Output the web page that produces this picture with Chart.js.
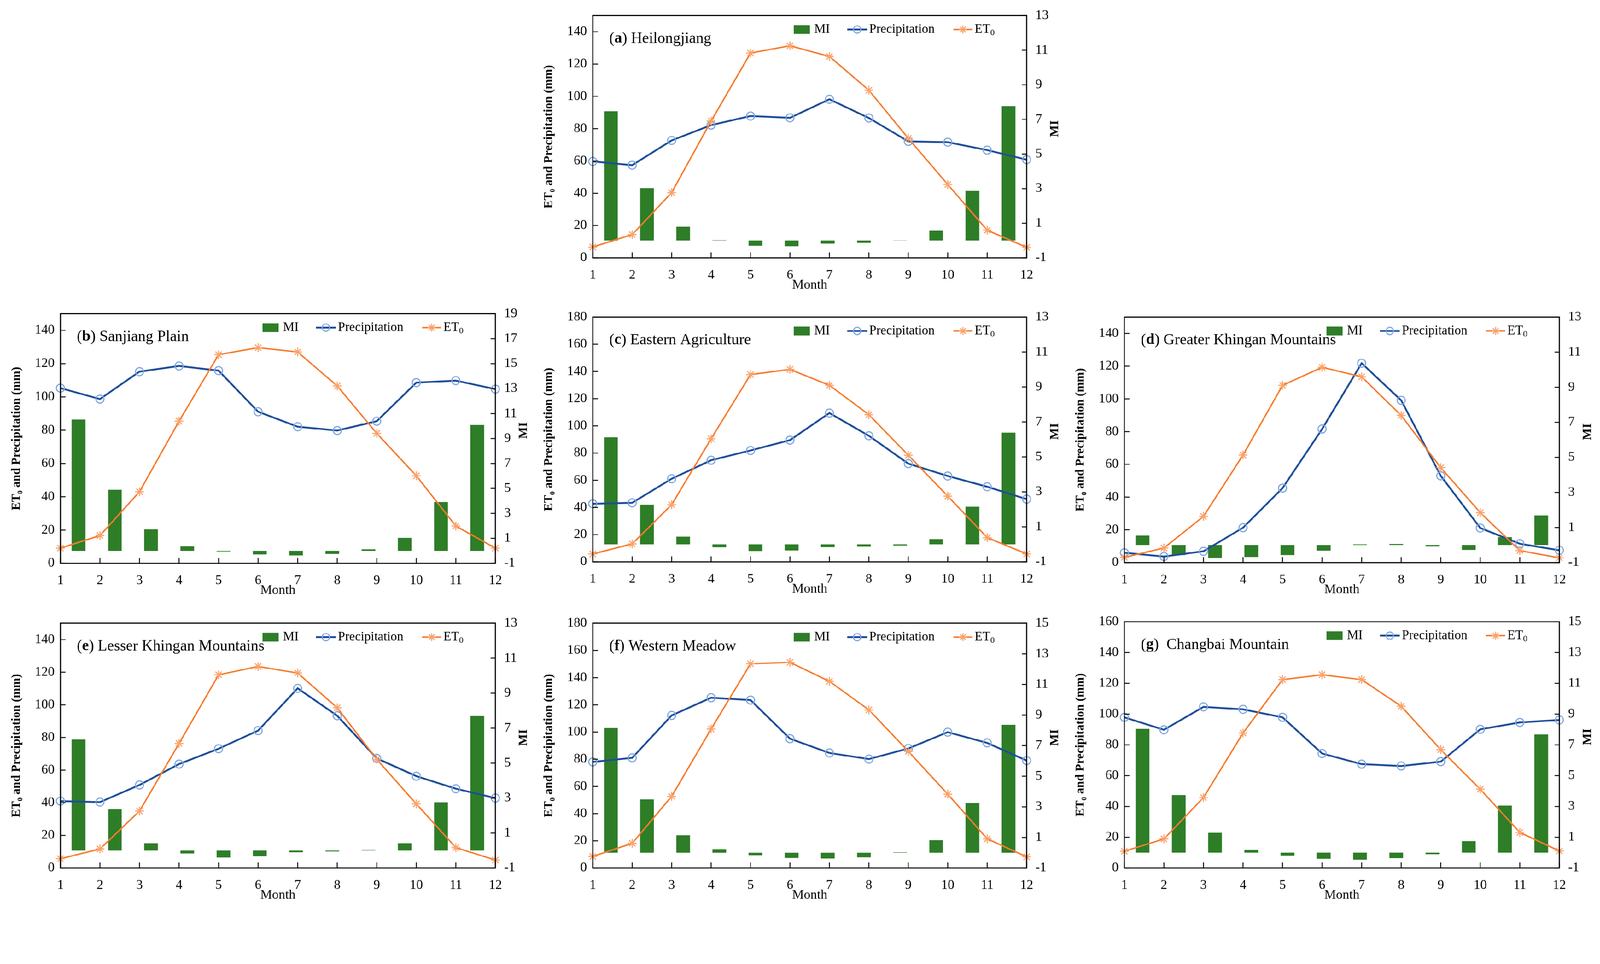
<!DOCTYPE html>
<html>
<head>
<meta charset="utf-8">
<script src="https://cdn.jsdelivr.net/npm/chart.js@4.4.1/dist/chart.umd.min.js"></script>
<style>
html, body { margin: 0; padding: 0; background: #fff; overflow: hidden; }
#page { width: 4370px; height: 2467px; position: absolute; left: 0; top: 0; transform-origin: 0 0; }
.panel { position: absolute; }
</style>
</head>
<body>
<div id="page"></div>
<script>
const months = ['1', '2', '3', '4', '5', '6', '7', '8', '9', '10', '11', '12'];

// (a) Heilongjiang
const precip_a = [59.7, 57.4, 72.7, 82.2, 87.8, 86.7, 98.2, 86.6, 72.1, 71.6, 66.7, 60.8];
const et0_a = [6.7, 14.4, 40.4, 84.7, 126.8, 131.3, 124.7, 103.8, 74.0, 45.4, 17.1, 6.5];
const mi_a = [7.47, 3.03, 0.80, 0.02, -0.30, -0.33, -0.18, -0.14, 0.01, 0.57, 2.87, 7.77];

// (b) Sanjiang Plain
const precip_b = [105.3, 98.7, 115.2, 118.6, 115.8, 91.1, 82.1, 79.8, 85.4, 108.6, 109.8, 104.7];
const et0_b = [9.1, 16.7, 43.0, 85.4, 125.4, 129.6, 127.0, 106.6, 78.1, 52.6, 22.4, 9.1];
const mi_b = [10.52, 4.89, 1.72, 0.39, -0.05, -0.29, -0.37, -0.25, 0.12, 1.04, 3.91, 10.09];

// (c) Eastern Agriculture
const precip_c = [42.7, 43.4, 61.1, 74.7, 81.9, 89.5, 109.4, 92.7, 72.2, 63.1, 55.2, 46.1];
const et0_c = [5.8, 13.2, 42.0, 90.5, 137.7, 141.5, 129.8, 108.2, 78.4, 48.3, 17.8, 5.8];
const mi_c = [6.12, 2.27, 0.44, -0.17, -0.38, -0.35, -0.16, -0.13, -0.07, 0.30, 2.15, 6.39];

// (d) Greater Khingan Mountains
const precip_d = [6.0, 3.7, 6.9, 21.3, 45.5, 81.6, 121.8, 99.1, 53.0, 21.1, 11.5, 7.5];
const et0_d = [3.2, 8.9, 28.2, 65.7, 108.3, 119.3, 113.5, 89.9, 58.0, 30.5, 7.3, 2.9];
const mi_d = [0.54, -0.57, -0.75, -0.68, -0.57, -0.32, 0.04, 0.06, -0.08, -0.28, 0.45, 1.69];

// (e) Lesser Khingan Mountains
const precip_e = [41.0, 40.4, 50.9, 63.7, 73.1, 84.2, 110.1, 93.3, 67.2, 56.3, 48.6, 42.9];
const et0_e = [5.7, 11.7, 34.9, 76.3, 118.4, 123.5, 119.5, 98.2, 66.6, 39.3, 12.5, 4.9];
const mi_e = [6.35, 2.36, 0.42, -0.17, -0.40, -0.33, -0.10, -0.05, 0.02, 0.42, 2.76, 7.69];

// (f) Western Meadow
const precip_f = [78.0, 81.0, 112.2, 125.2, 123.5, 95.1, 84.6, 80.1, 87.9, 99.9, 92.0, 79.0];
const et0_f = [8.5, 18.2, 52.7, 102.2, 150.2, 151.2, 137.3, 116.3, 85.8, 54.3, 21.5, 8.2];
const mi_f = [8.15, 3.49, 1.14, 0.23, -0.16, -0.34, -0.38, -0.30, 0.03, 0.82, 3.25, 8.36];

// (g) Changbai Mountain
const precip_g = [97.9, 89.8, 104.7, 103.1, 97.9, 74.4, 67.5, 66.3, 69.1, 90.1, 94.6, 96.2];
const et0_g = [10.9, 18.9, 45.8, 87.7, 122.4, 125.6, 122.4, 105.1, 76.9, 51.2, 23.1, 11.1];
const mi_g = [8.04, 3.74, 1.29, 0.18, -0.19, -0.40, -0.46, -0.36, -0.10, 0.75, 3.06, 7.68];

// axis ranges per panel
const leftMax = [150, 150, 180, 150, 150, 180, 160];
const miMax = [13, 19, 13, 13, 13, 15, 15];
const letters = ['a', 'b', 'c', 'd', 'e', 'f', 'g'];
const regions = ['Heilongjiang', 'Sanjiang Plain', 'Eastern Agriculture', 'Greater Khingan Mountains',
  'Lesser Khingan Mountains', 'Western Meadow', ' Changbai Mountain'];

const precipAll = [precip_a, precip_b, precip_c, precip_d, precip_e, precip_f, precip_g];
const et0All = [et0_a, et0_b, et0_c, et0_d, et0_e, et0_f, et0_g];
const miAll = [mi_a, mi_b, mi_c, mi_d, mi_e, mi_f, mi_g];

// plot area boxes on the page [left, right, top, bottom]
const boxes = [
  [1619, 2804, 21, 704],
  [165, 1353, 835, 1538],
  [1619, 2804, 844, 1534],
  [3071, 4259, 844, 1536],
  [165, 1353, 1680, 2370],
  [1619, 2804, 1680, 2370],
  [3071, 4259, 1676, 2370]
];

const SERIF = '"Liberation Serif", "Times New Roman", serif';
const GREEN = '#2e7d27';
const BLUE = '#1f4f99';
const BLUE_PT = '#7ea6e0';
const ORANGE = '#f57c2e';
const ORANGE_PT = '#f9a36c';

const AXIS_L = 165, AXIS_R = 110, AXIS_B = 100, PAD_T = 24;

const page = document.getElementById('page');
const fit = Math.min(window.innerWidth / 4370, window.innerHeight / 2467);
page.style.transform = 'scale(' + fit + ')';

Chart.defaults.font.family = SERIF;
Chart.defaults.color = '#000';

function drawStar(ctx, x, y, r) {
  ctx.beginPath();
  for (let k = 0; k < 4; k++) {
    const a = k * Math.PI / 4;
    ctx.moveTo(x + Math.cos(a) * r, y + Math.sin(a) * r);
    ctx.lineTo(x - Math.cos(a) * r, y - Math.sin(a) * r);
  }
  ctx.stroke();
}

const decor = {
  id: 'decor',
  afterDraw(chart, args, opts) {
    const ctx = chart.ctx;
    const {left, right, top, bottom} = chart.chartArea;
    ctx.save();

    // frame
    ctx.strokeStyle = '#000';
    ctx.lineWidth = 3;
    ctx.strokeRect(left, top, right - left, bottom - top);

    // inward tick marks
    ctx.lineWidth = 2.5;
    ctx.beginPath();
    const xs = chart.scales.x;
    months.forEach((m, i) => {
      const px = xs.getPixelForValue(i);
      ctx.moveTo(px, bottom);
      ctx.lineTo(px, bottom - 15);
    });
    const yl = chart.scales.y;
    yl.ticks.forEach(t => {
      const py = yl.getPixelForValue(t.value);
      ctx.moveTo(left, py);
      ctx.lineTo(left + 14, py);
    });
    const yr = chart.scales.y1;
    yr.ticks.forEach(t => {
      const py = yr.getPixelForValue(t.value);
      ctx.moveTo(right, py);
      ctx.lineTo(right - 13, py);
    });
    ctx.stroke();

    // MI axis title, reading bottom to top
    ctx.save();
    ctx.translate(right + 77, (top + bottom) / 2 - 22);
    ctx.rotate(-Math.PI / 2);
    ctx.font = 'bold 34px ' + SERIF;
    ctx.fillStyle = '#000';
    ctx.textAlign = 'center';
    ctx.textBaseline = 'middle';
    ctx.fillText('MI', 0, 0);
    ctx.restore();

    // legend
    const ly = top + 38;
    ctx.textBaseline = 'middle';
    ctx.font = '35px ' + SERIF;
    ctx.fillStyle = GREEN;
    ctx.fillRect(right - 636, ly - 12, 44, 24);
    ctx.fillStyle = '#000';
    ctx.fillText('MI', right - 580, ly);

    ctx.strokeStyle = BLUE;
    ctx.lineWidth = 5;
    ctx.beginPath();
    ctx.moveTo(right - 490, ly);
    ctx.lineTo(right - 436, ly);
    ctx.stroke();
    ctx.strokeStyle = BLUE_PT;
    ctx.lineWidth = 3;
    ctx.beginPath();
    ctx.arc(right - 463, ly, 10, 0, Math.PI * 2);
    ctx.stroke();
    ctx.fillText('Precipitation', right - 430, ly);

    ctx.strokeStyle = ORANGE;
    ctx.lineWidth = 4;
    ctx.beginPath();
    ctx.moveTo(right - 200, ly);
    ctx.lineTo(right - 148, ly);
    ctx.stroke();
    ctx.strokeStyle = ORANGE_PT;
    ctx.lineWidth = 3;
    drawStar(ctx, right - 174, ly, 11);
    ctx.fillText('ET', right - 142, ly);
    const etw = ctx.measureText('ET').width;
    ctx.font = '24px ' + SERIF;
    ctx.fillText('0', right - 142 + etw, ly + 9);

    // panel title
    let tx = left + 45;
    const ty = top + 63;
    const parts = [['(', ''], [opts.letter, 'bold '], [') ' + opts.name, '']];
    parts.forEach(p => {
      ctx.font = p[1] + '42px ' + SERIF;
      ctx.fillText(p[0], tx, ty);
      tx += ctx.measureText(p[0]).width;
    });
    ctx.restore();
  }
};

boxes.forEach((b, k) => {
  const [L, R, T, B] = b;
  const div = document.createElement('div');
  div.className = 'panel';
  div.style.left = (L - AXIS_L) + 'px';
  div.style.top = (T - PAD_T) + 'px';
  div.style.width = (R - L + AXIS_L + AXIS_R) + 'px';
  div.style.height = (B - T + PAD_T + AXIS_B) + 'px';
  const canvas = document.createElement('canvas');
  div.appendChild(canvas);
  page.appendChild(div);

  new Chart(canvas, {
    type: 'bar',
    data: {
      labels: months,
      datasets: [
        {
          type: 'line',
          label: 'ET0',
          data: et0All[k],
          xAxisID: 'x',
          yAxisID: 'y',
          borderColor: ORANGE,
          borderWidth: 4,
          pointStyle: 'star',
          pointRadius: 12,
          pointBorderColor: ORANGE_PT,
          pointBackgroundColor: 'rgba(0,0,0,0)',
          pointBorderWidth: 3,
          tension: 0,
          clip: false,
          order: 0
        },
        {
          type: 'line',
          label: 'Precipitation',
          data: precipAll[k],
          xAxisID: 'x',
          yAxisID: 'y',
          borderColor: BLUE,
          borderWidth: 5,
          pointStyle: 'circle',
          pointRadius: 11,
          pointBorderColor: BLUE_PT,
          pointBackgroundColor: 'rgba(0,0,0,0)',
          pointBorderWidth: 3,
          tension: 0,
          clip: false,
          order: 1
        },
        {
          type: 'bar',
          label: 'MI',
          data: miAll[k],
          xAxisID: 'x2',
          yAxisID: 'y1',
          backgroundColor: GREEN,
          grouped: false,
          barPercentage: 0.38,
          categoryPercentage: 1,
          order: 2
        }
      ]
    },
    options: {
      responsive: true,
      maintainAspectRatio: false,
      animation: false,
      layout: { padding: { top: PAD_T, left: 0, right: 0, bottom: 0 } },
      plugins: {
        legend: { display: false },
        tooltip: { enabled: false },
        decor: { letter: letters[k], name: regions[k] }
      },
      scales: {
        x: {
          type: 'category',
          position: 'bottom',
          offset: false,
          grid: { display: false, drawTicks: false },
          border: { display: false },
          ticks: { font: { size: 36 }, padding: 26, maxRotation: 0, autoSkip: false },
          title: { display: true, text: 'Month', font: { size: 36 }, padding: { top: 0, bottom: 4 } },
          afterFit(s) { s.height = AXIS_B; }
        },
        x2: {
          type: 'category',
          position: 'top',
          offset: true,
          display: true,
          grid: { display: false, drawTicks: false },
          border: { display: false },
          ticks: { display: false },
          afterFit(s) { s.height = 0; }
        },
        y: {
          type: 'linear',
          position: 'left',
          min: 0,
          max: leftMax[k],
          grid: { display: false, drawTicks: false },
          border: { display: false },
          ticks: { stepSize: 20, font: { size: 36 }, padding: 16 },
          afterBuildTicks(s) { s.ticks = s.ticks.filter(t => t.value % 20 === 0); },
          title: { display: true, text: 'ET\u2080 and Precipitation (mm)', font: { size: 33, weight: 'bold' }, padding: { top: 26, bottom: 0 } },
          afterFit(s) { s.width = AXIS_L; }
        },
        y1: {
          type: 'linear',
          position: 'right',
          min: -1,
          max: miMax[k],
          grid: { display: false, drawTicks: false },
          border: { display: false },
          ticks: { stepSize: 2, font: { size: 36 }, padding: 24 },
          title: { display: false },
          afterFit(s) { s.width = AXIS_R; }
        }
      }
    },
    plugins: [decor]
  });
});
</script>
</body>
</html>
